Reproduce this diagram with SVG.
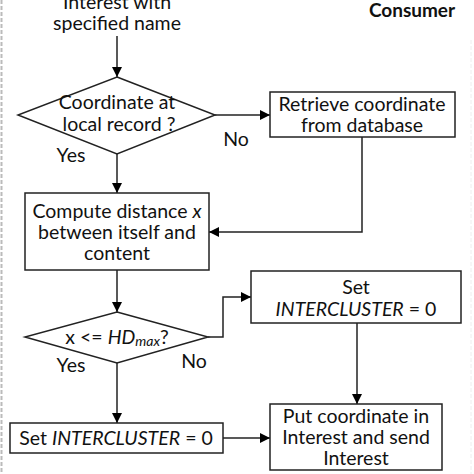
<svg xmlns="http://www.w3.org/2000/svg" width="474" height="474" viewBox="0 0 474 474">
<defs>
<marker id="ah" viewBox="0 0 10 10" refX="10" refY="5" markerWidth="10" markerHeight="10" markerUnits="userSpaceOnUse" orient="auto">
<path d="M0,0 L10,5 L0,10 Z" fill="#000"/>
</marker>
<style>
.n{fill:#fff;stroke:#222;stroke-width:1.5}
.t{font-family:Lato,"Noto Sans",sans-serif;font-size:19.5px;fill:#111;text-anchor:middle}
.c{fill:none;stroke:#222;stroke-width:1.5;marker-end:url(#ah)}
</style>
</defs>
<rect width="474" height="474" fill="#fff"/>
<line x1="1.5" y1="0" x2="1.5" y2="474" stroke="#bbb" stroke-width="2" stroke-dasharray="4,2"/>
<line x1="471" y1="40" x2="471" y2="474" stroke="#eee" stroke-width="1" stroke-dasharray="4,2"/>
<text class="t" x="412" y="17" style="font-size:19px;font-weight:bold">Consumer</text>
<g id="start">
<text class="t" x="117" y="9">Interest with</text>
<text class="t" x="117" y="30">specified name</text>
</g>
<g id="connectors">
<line class="c" x1="117" y1="36" x2="117" y2="77"/>
<line class="c" x1="215" y1="115" x2="270" y2="115"/>
<line class="c" x1="117" y1="154" x2="117" y2="193"/>
<polyline class="c" points="362,137 362,232 209,232"/>
<line class="c" x1="117" y1="270" x2="117" y2="312"/>
<polyline class="c" points="208,337 223,337 223,297 251,297"/>
<line class="c" x1="117" y1="363" x2="117" y2="423"/>
<line class="c" x1="223" y1="438" x2="270" y2="438"/>
<line class="c" x1="357" y1="323" x2="357" y2="404"/>
<text class="t" x="236" y="146">No</text>
<text class="t" x="71" y="162">Yes</text>
<text class="t" x="71" y="372">Yes</text>
<text class="t" x="194" y="368">No</text>
</g>
<g id="d1">
<polygon class="n" points="117,77 215,115 117,154 18,115"/>
<text class="t" x="117" y="109">Coordinate at</text>
<text class="t" x="119" y="131">local record ?</text>
</g>
<g id="retrieve">
<rect class="n" x="270" y="92" width="185" height="45"/>
<text class="t" x="362" y="111">Retrieve coordinate</text>
<text class="t" x="362" y="132">from database</text>
</g>
<g id="compute">
<rect class="n" x="25" y="193" width="184" height="77"/>
<text class="t" x="117" y="218">Compute distance <tspan font-style="italic">x</tspan></text>
<text class="t" x="117" y="239">between itself and</text>
<text class="t" x="117" y="260">content</text>
</g>
<g id="d2">
<polygon class="n" points="117,312 208,337 117,363 25,337"/>
<text class="t" x="117" y="344">x &lt;= <tspan font-style="italic">HD<tspan font-size="14" dy="2">max</tspan></tspan><tspan dy="-2">?</tspan></text>
</g>
<g id="setNo">
<rect class="n" x="251" y="271" width="210" height="52"/>
<text class="t" x="356" y="294">Set</text>
<text class="t" x="356" y="316"><tspan font-style="italic">INTERCLUSTER</tspan> = 0</text>
</g>
<g id="setYes">
<rect class="n" x="10" y="423" width="213" height="30"/>
<text class="t" x="116" y="445">Set <tspan font-style="italic">INTERCLUSTER</tspan> = 0</text>
</g>
<g id="put">
<rect class="n" x="270" y="404" width="172" height="66"/>
<text class="t" x="356" y="423">Put coordinate in</text>
<text class="t" x="356" y="444">Interest and send</text>
<text class="t" x="356" y="465">Interest</text>
</g>
</svg>
